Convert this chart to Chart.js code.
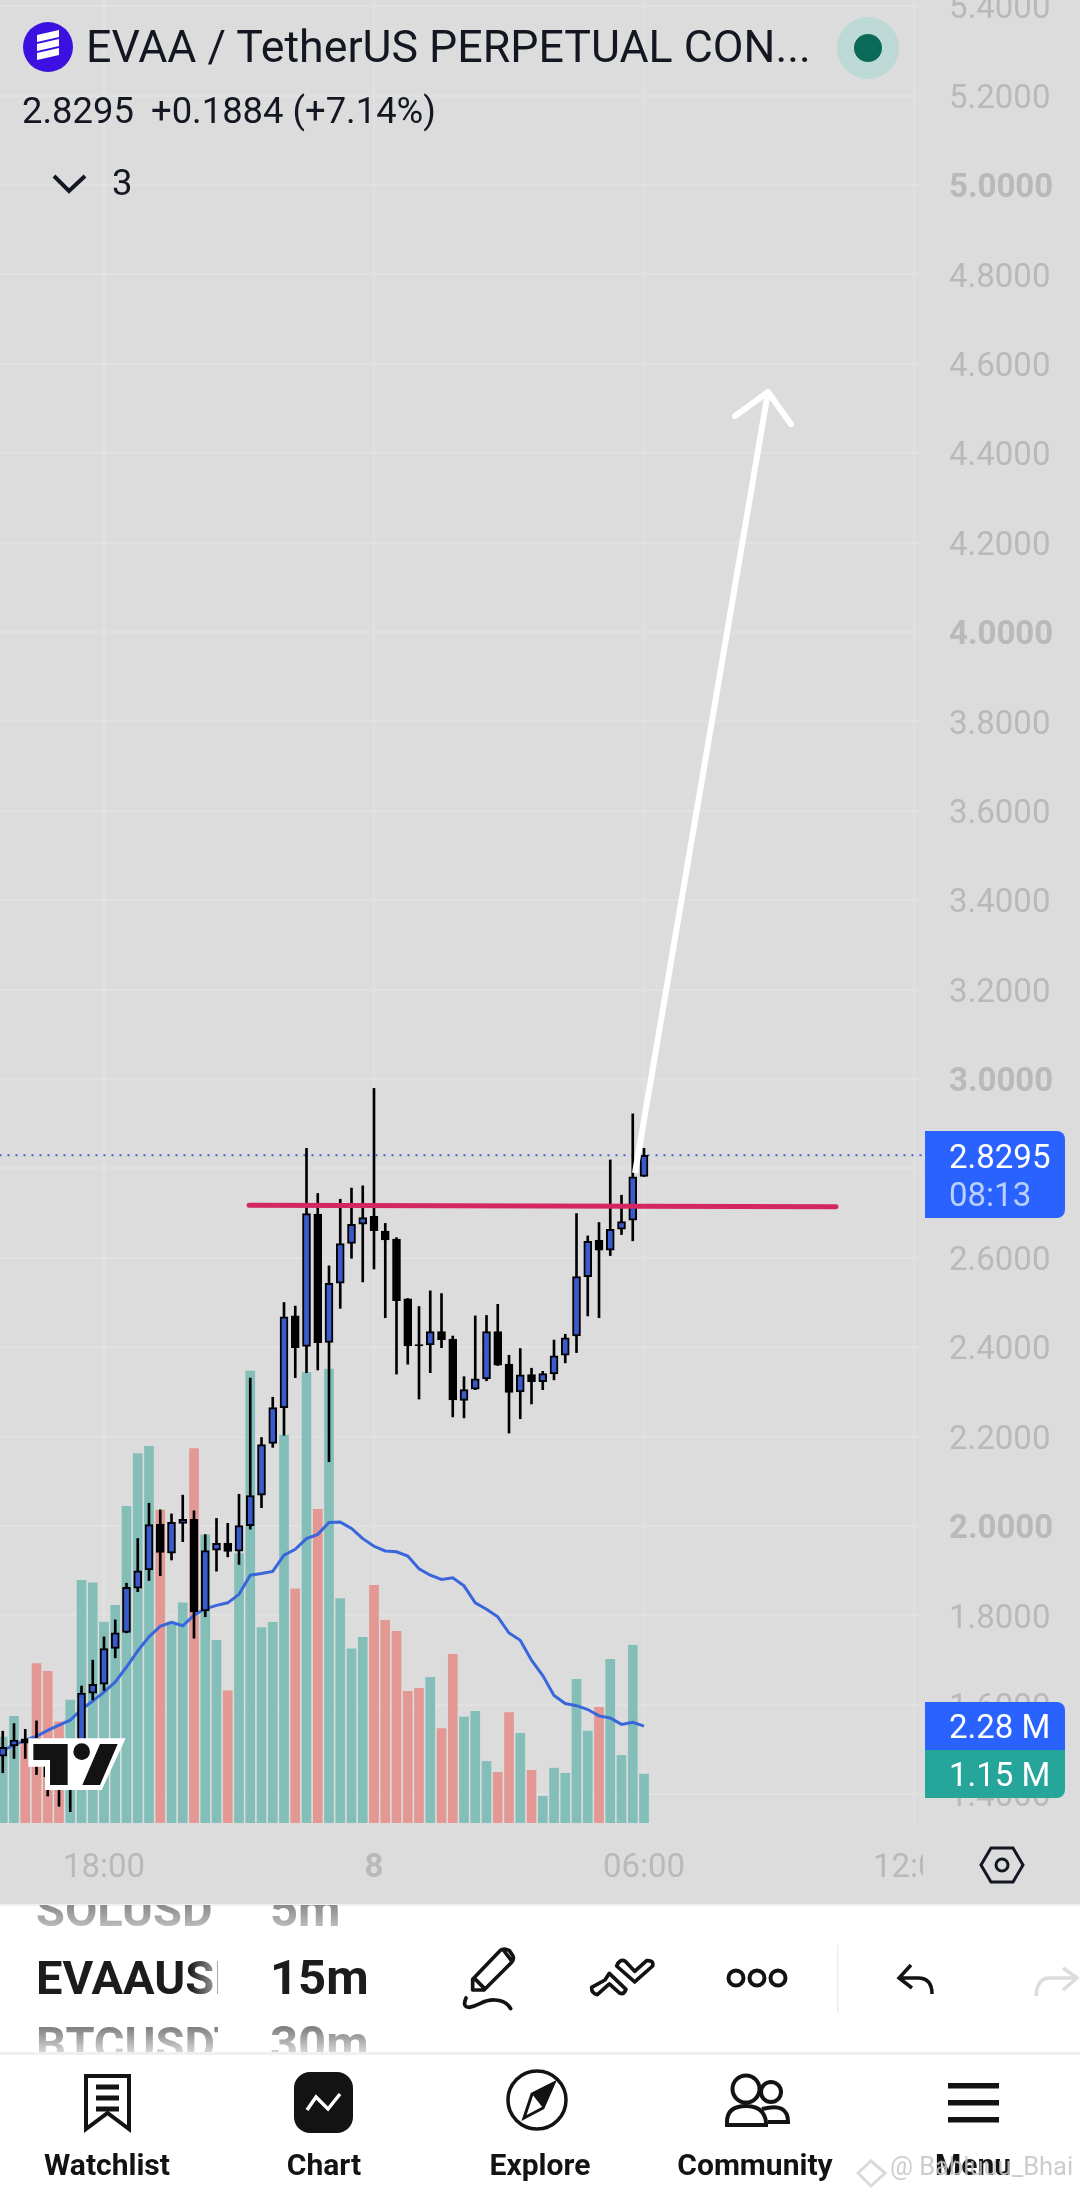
<!DOCTYPE html>
<html>
<head>
<meta charset="utf-8">
<title>EVAA / TetherUS</title>
<script src="https://cdn.jsdelivr.net/npm/chart.js@4"></script>
<style>
  html, body { margin: 0; padding: 0; background: #fff; }
  #page { position: relative; width: 1080px; height: 2198px; overflow: hidden; background: #fff; }
  #chart { position: absolute; left: 0; top: 0; background: #dcdcdc; }
  #ui { position: absolute; left: 0; top: 0; }
  #ui text { font-family: Roboto, sans-serif; }
</style>
</head>
<body>
<div id="page">
  <canvas id="chart" width="1080" height="1904"></canvas>
  <svg id="ui" width="1080" height="2198" viewBox="0 0 1080 2198">
    <defs>
      <linearGradient id="fadeTop" gradientUnits="userSpaceOnUse" x1="0" y1="1905" x2="0" y2="1930">
        <stop offset="0" stop-color="#8a8a8a"/><stop offset="1" stop-color="#c4c4c4"/>
      </linearGradient>
      <linearGradient id="fadeBottom" gradientUnits="userSpaceOnUse" x1="0" y1="2025" x2="0" y2="2053">
        <stop offset="0" stop-color="#777"/><stop offset="1" stop-color="#d8d8d8"/>
      </linearGradient>
      <linearGradient id="fadeRight" gradientUnits="userSpaceOnUse" x1="190" y1="0" x2="218" y2="0">
        <stop offset="0" stop-color="#1c1c1c"/><stop offset="1" stop-color="#aaa"/>
      </linearGradient>
      <clipPath id="wheelClip"><rect x="0" y="1905" width="600" height="148"/></clipPath>
      <clipPath id="symClip"><rect x="0" y="1905" width="218" height="148"/></clipPath>
    </defs>

    <!-- header -->
    <circle cx="48" cy="47" r="25" fill="#3c10e0"/>
    <path d="M37 36 L59 31 V38 L37 43 Z M37 45 L59 40 V47 L37 52 Z M37 54 L59 49 V56 L37 61 Z" fill="#fff" transform="translate(0,-1)"/>
    <text x="86" y="62" font-size="44.7" fill="#131722">EVAA / TetherUS PERPETUAL CON...</text>
    <circle cx="868" cy="48" r="31" fill="#bdd9d5"/>
    <circle cx="868" cy="48" r="14" fill="#0b6b58"/>
    <text x="22" y="123" font-size="36.4" fill="#131722">2.8295</text>
    <text x="151" y="123" font-size="36.4" fill="#131722">+0.1884 (+7.14%)</text>
    <path d="M54 176 L69 191 L85 176" fill="none" stroke="#131722" stroke-width="4"/>
    <text x="112" y="195" font-size="36.4" fill="#131722">3</text>

    <!-- TradingView mark -->
    <svg x="20" y="1725" width="120" height="100" viewBox="0 0 360 300">
      <path d="M25 40 H317 L245 195 H75 V125 H25 Z" fill="#fff"/>
      <path d="M40 57 H143 V180 H90 V105 H40 Z M240 57 H293 L240 180 H187 Z" fill="#131313"/>
      <circle cx="185" cy="80" r="25" fill="#131313"/>
    </svg>

    <!-- settings hexagon -->
    <path d="M991 1848 H1013 L1023 1865 L1013 1882 H991 L981 1865 Z" fill="none" stroke="#131722" stroke-width="3"/>
    <circle cx="1002" cy="1865" r="6" fill="none" stroke="#131722" stroke-width="3"/>

    <!-- toolbar -->
    <rect x="0" y="1904" width="1080" height="2" fill="#f0f0f0"/>
    <g clip-path="url(#symClip)" font-weight="700" font-size="47">
      <text x="36" y="1926" fill="url(#fadeTop)">SOLUSDT</text>
      <text x="36" y="1994" fill="url(#fadeRight)">EVAAUSDT</text>
      <text x="36" y="2060" fill="url(#fadeBottom)">BTCUSDT</text>
    </g>
    <g clip-path="url(#wheelClip)" font-weight="700" font-size="49">
      <text x="270" y="1926" fill="url(#fadeTop)">5m</text>
      <text x="270" y="1994" fill="#1c1c1c">15m</text>
      <text x="270" y="2060" fill="url(#fadeBottom)">30m</text>
    </g>
    <g transform="translate(440,1930) scale(0.3333)" fill="none" stroke="#131313" stroke-width="11" stroke-linejoin="round" stroke-linecap="round">
      <path d="M98 148 L180 62 Q192 52 208 62 L218 76 Q224 88 214 98 L132 180 H98 Z M104 146 L134 176 M190 60 L216 94"/>
      <path d="M78 204 Q66 232 88 232 C120 226 130 208 165 210 Q200 212 212 236"/>
      <path d="M495 150 L508 130 L558 178 Q552 194 540 190 L508 162 L472 194 Q454 190 455 172 Z"/>
      <path d="M530 108 Q540 84 556 94 L584 124 L620 92 Q642 90 638 108 L584 156 Z"/>
    </g>
    <g fill="none" stroke="#131313" stroke-width="4">
      <circle cx="736" cy="1978" r="7.5"/><circle cx="757" cy="1978" r="7.5"/><circle cx="778" cy="1978" r="7.5"/>
    </g>
    <rect x="837" y="1945" width="1.5" height="68" fill="#ececec"/>
    <path d="M911 1965 L899 1978 L912 1988 M899 1978 H918 Q932 1978 932 1994" fill="none" stroke="#131313" stroke-width="3.5"/>
    <path d="M1063 1968 L1077 1978 L1063 1990 M1077 1978 H1050 Q1037 1978 1036 1996" fill="none" stroke="#dcdcdc" stroke-width="3.5"/>
    <rect x="0" y="2052" width="1080" height="3" fill="#f0f0f0"/>

    <!-- bottom nav -->
    <path d="M86 2076 H129 V2129 L107.500 2113 L86 2129 Z" fill="none" stroke="#131313" stroke-width="4"/>
    <path d="M96 2087 H119 M96 2098 H119 M96 2109 H119" stroke="#131313" stroke-width="5"/>
    <rect x="294" y="2072" width="59" height="61" rx="16" fill="#131313"/>
    <path d="M307 2110 L316 2097 L328 2109 L340 2094" fill="none" stroke="#fff" stroke-width="3.500"/>
    <circle cx="537" cy="2100" r="29" fill="none" stroke="#131313" stroke-width="3.500"/>
    <path d="M554 2083 L543 2108 L524 2118 L532 2094 Z" fill="#fff" stroke="#131313" stroke-width="3"/>
    <path d="M554 2083 L532 2094 L543 2108 Z" fill="#131313"/>
    <g fill="none" stroke="#131313" stroke-width="4">
      <circle cx="746" cy="2089" r="13.500"/><circle cx="771" cy="2092" r="10"/>
      <path d="M727 2122 Q727 2106 746 2106 Q764 2106 766 2122 V2125 H727 Z"/>
      <path d="M762 2109 Q788 2102 788 2122 H768"/>
    </g>
    <rect x="948" y="2083" width="51" height="5.500" fill="#131313"/>
    <rect x="948" y="2100" width="51" height="5.500" fill="#131313"/>
    <rect x="948" y="2117" width="51" height="5.500" fill="#131313"/>
    <g font-size="30" font-weight="700" fill="#131313" text-anchor="middle">
      <text x="107" y="2175">Watchlist</text>
      <text x="324" y="2175">Chart</text>
      <text x="540" y="2175">Explore</text>
      <text x="755" y="2175">Community</text>
      <text x="973" y="2175">Menu</text>
    </g>
    <!-- watermark -->
    <path d="M871 2161 L885 2173 L871 2186 L858 2173 Z" fill="none" stroke="#dadada" stroke-width="3"/>
    <text x="890" y="2175" font-size="25.5" fill="#c4c4c4" fill-opacity="0.85">@ Babluuu_Bhai</text>
  </svg>
</div>
<script>
// Candles, one per 15 minutes
const candleOpen = [1.485,1.508,1.524,1.525,1.480,1.476,1.447,1.499,1.626,1.646,1.726,1.762,1.861,1.902,2.004,1.939,2.006,2.015,1.810,1.946,1.961,1.944,2.001,2.069,2.185,2.265,2.470,2.402,2.698,2.411,2.543,2.632,2.675,2.693,2.660,2.642,2.508,2.406,2.405,2.435,2.418,2.281,2.306,2.329,2.435,2.362,2.300,2.339,2.323,2.340,2.382,2.425,2.558,2.639,2.617,2.664,2.684,2.782];
const candleHigh = [1.541,1.558,1.545,1.564,1.491,1.495,1.506,1.642,1.700,1.752,1.790,1.872,1.972,2.051,2.036,2.027,2.069,2.034,1.981,2.017,2.006,2.071,2.331,2.198,2.288,2.500,2.492,2.845,2.744,2.582,2.731,2.756,2.761,2.979,2.677,2.645,2.509,2.491,2.526,2.520,2.425,2.334,2.470,2.471,2.496,2.382,2.397,2.353,2.346,2.416,2.429,2.699,2.649,2.679,2.819,2.740,2.922,2.845];
const candleLow = [1.448,1.480,1.480,1.444,1.396,1.373,1.361,1.476,1.611,1.632,1.705,1.761,1.853,1.878,1.889,1.924,1.965,1.749,1.797,1.899,1.931,1.914,1.993,2.041,2.176,2.203,2.332,2.343,2.349,2.144,2.487,2.599,2.546,2.575,2.466,2.340,2.362,2.284,2.343,2.399,2.244,2.242,2.305,2.325,2.359,2.208,2.240,2.273,2.305,2.327,2.365,2.388,2.470,2.466,2.605,2.652,2.638,2.782];
const candleClose = [1.505,1.521,1.514,1.488,1.439,1.424,1.491,1.626,1.646,1.726,1.761,1.863,1.900,2.003,1.941,2.008,2.015,1.808,1.945,1.961,1.943,2.001,2.068,2.182,2.265,2.468,2.399,2.699,2.410,2.543,2.632,2.675,2.690,2.661,2.640,2.504,2.403,2.403,2.435,2.417,2.282,2.305,2.329,2.435,2.360,2.299,2.338,2.323,2.341,2.381,2.421,2.558,2.637,2.617,2.664,2.681,2.781,2.8295];

// Volume in millions, 1 = green bar, 0 = red bar
const volume = [2.02,2.51,1.95,3.75,3.57,2.38,2.89,5.71,5.65,4.73,5.12,7.45,8.69,8.86,7.36,4.73,5.18,8.81,6.78,4.30,3.11,6.34,10.63,4.60,4.72,9.12,5.51,10.60,7.38,10.68,5.28,4.10,4.37,5.59,4.77,4.51,3.10,3.17,3.43,2.22,3.97,2.49,2.63,1.45,1.19,2.60,2.11,1.24,0.63,1.29,1.17,3.38,2.16,2.72,3.85,1.59,4.18,1.15];
const volumeUp = [1,1,0,0,0,0,1,1,1,1,1,1,1,1,0,1,1,0,1,1,0,1,1,1,1,1,0,1,0,1,1,1,1,0,0,0,0,0,1,0,0,1,1,1,0,0,1,0,1,1,1,1,1,0,1,1,1,1];
const volumeMa = [1.71,1.83,1.95,2.04,2.18,2.30,2.42,2.67,2.87,3.08,3.32,3.67,4.05,4.38,4.63,4.72,4.64,4.89,5.04,5.12,5.18,5.38,5.83,5.87,5.92,6.30,6.44,6.69,6.79,7.07,7.08,6.93,6.69,6.51,6.40,6.38,6.28,5.98,5.83,5.73,5.77,5.58,5.18,5.03,4.85,4.47,4.30,3.83,3.47,3.00,2.81,2.76,2.67,2.52,2.47,2.32,2.37,2.28];

// Axis ticks
const priceTicks = [1.4,1.6,1.8,2.0,2.2,2.4,2.6,2.8,3.0,3.2,3.4,3.6,3.8,4.0,4.2,4.4,4.6,4.8,5.0,5.2,5.4];
const timeTicks = [9,33,57,81];
const timeLabels = ["18:00","8","06:00","12:00"];

// Drawings on the chart
const lastPrice = 2.8295;
const resistanceX = [21.9,74.07];
const resistanceY = [2.7174,2.7145];
const arrowShaftX = [56.2,68.02];
const arrowShaftY = [2.79,4.537];
const arrowHeadX = [65.09,68.02,70.07];
const arrowHeadY = [4.483,4.537,4.465];

const BG = "#dcdcdc";
const GRID = "#e1e1e1";
const TICK_COLOR = "#b9b9b9";
const BLUE_TAG = "#2962ff";
const GREEN_TAG = "#26a69a";

const xs = candleOpen.map((_, i) => i);

function toPoints(px, py) {
  return px.map((x, i) => ({ x: x, y: py[i] }));
}

// chart area stops at 922 x 1823, tags and right strip are drawn over it
const overlayPlugin = {
  id: "overlay",
  beforeDraw(chart) {
    // price labels sit a little under their grid line
    chart.scales.y.getLabelItems().forEach((item) => {
      item.options.translation[1] += 4;
    });
  },
  afterDraw(chart) {
    const ctx = chart.ctx;
    ctx.save();
    ctx.fillStyle = BG;
    ctx.fillRect(923, 1824, 157, 80);

    function tag(y, h, color, radius) {
      ctx.fillStyle = color;
      ctx.beginPath();
      ctx.roundRect(925, y, 140, h, radius);
      ctx.fill();
    }
    tag(1131, 87, BLUE_TAG, [0, 8, 8, 0]);
    tag(1702, 48, BLUE_TAG, [0, 8, 0, 0]);
    tag(1750, 48, GREEN_TAG, [0, 0, 8, 0]);

    ctx.textAlign = "left";
    ctx.textBaseline = "alphabetic";
    ctx.font = "33px Roboto";
    ctx.fillStyle = "#ffffff";
    ctx.fillText(lastPrice.toFixed(4), 949, 1168);
    ctx.fillStyle = "#b9d0fc";
    ctx.fillText("08:13", 949, 1206);
    ctx.fillStyle = "#ffffff";
    ctx.fillText(volumeMa[volumeMa.length - 1].toFixed(2) + " M", 949, 1738);
    ctx.fillText(volume[volume.length - 1].toFixed(2) + " M", 949, 1786);
    ctx.restore();
  },
};

const ctx = document.getElementById("chart").getContext("2d");
const chart = new Chart(ctx, {
  plugins: [overlayPlugin],
  data: {
    datasets: [
      {
        type: "bar",
        label: "Volume",
        yAxisID: "vol",
        order: 7,
        data: toPoints(xs, volume),
        backgroundColor: volumeUp.map((u) => (u ? "#83bfb8" : "#e39894")),
        borderWidth: 0,
        barThickness: 9,
        grouped: false,
      },
      {
        type: "line",
        label: "Volume MA",
        yAxisID: "vol",
        order: 6,
        data: toPoints(xs, volumeMa),
        borderColor: "#3a66dc",
        borderWidth: 3,
        pointRadius: 0,
        tension: 0,
      },
      {
        type: "line",
        label: "Last price",
        yAxisID: "y",
        order: 5,
        data: toPoints([-1, 90], [lastPrice, lastPrice]),
        borderColor: "#4a62d8",
        borderWidth: 2,
        borderDash: [2, 6],
        pointRadius: 0,
      },
      {
        type: "bar",
        label: "Wicks",
        yAxisID: "y",
        order: 4,
        data: xs.map((i) => ({ x: i, y: [candleLow[i], candleHigh[i]] })),
        backgroundColor: "#000000",
        borderWidth: 0,
        barThickness: 2,
        grouped: false,
      },
      {
        type: "bar",
        label: "Bodies",
        yAxisID: "y",
        order: 3,
        data: xs.map((i) => ({ x: i, y: [candleOpen[i], candleClose[i]] })),
        backgroundColor: xs.map((i) => (candleClose[i] >= candleOpen[i] ? "#3a5bcc" : "#000000")),
        borderColor: "#000000",
        borderWidth: 2,
        borderSkipped: false,
        barThickness: 8,
        grouped: false,
      },
      {
        type: "line",
        label: "Resistance",
        yAxisID: "y",
        order: 2,
        data: toPoints(resistanceX, resistanceY),
        borderColor: "#d4265f",
        borderWidth: 5,
        borderCapStyle: "round",
        pointRadius: 0,
      },
      {
        type: "line",
        label: "Arrow",
        yAxisID: "y",
        order: 1,
        data: toPoints(arrowShaftX, arrowShaftY),
        borderColor: "#ffffff",
        borderWidth: 6,
        pointRadius: 0,
      },
      {
        type: "line",
        label: "Arrow head",
        yAxisID: "y",
        order: 1,
        data: toPoints(arrowHeadX, arrowHeadY),
        borderColor: "#ffffff",
        borderWidth: 6,
        borderCapStyle: "round",
        borderJoinStyle: "round",
        pointRadius: 0,
      },
    ],
  },
  options: {
    responsive: false,
    animation: false,
    devicePixelRatio: 1,
    layout: { padding: 0 },
    plugins: { legend: { display: false }, tooltip: { enabled: false } },
    scales: {
      x: {
        type: "linear",
        offset: false,
        min: -0.2444,
        max: 81.71,
        afterBuildTicks(scale) {
          scale.ticks = timeTicks.map((v) => ({ value: v }));
        },
        afterFit(scale) {
          scale.height = 81;
          scale.paddingLeft = 0;
          scale.paddingRight = 0;
        },
        grid: { color: GRID, lineWidth: 2, drawTicks: false, offset: false },
        border: { display: false },
        ticks: {
          autoSkip: false,
          maxRotation: 0,
          padding: 26,
          color: TICK_COLOR,
          font: (c) => ({ family: "Roboto", size: 33, weight: c.index === 1 ? "bold" : "normal" }),
          callback: (v) => timeLabels[timeTicks.indexOf(v)],
        },
      },
      y: {
        type: "linear",
        position: "right",
        min: 1.3356,
        max: 5.4139,
        afterBuildTicks(scale) {
          scale.ticks = priceTicks.map((v) => ({ value: v }));
        },
        afterFit(scale) {
          scale.width = 158;
          scale.paddingTop = 0;
          scale.paddingBottom = 0;
        },
        grid: { color: GRID, lineWidth: 2, drawTicks: false },
        border: { display: false },
        ticks: {
          autoSkip: false,
          padding: 27,
          color: TICK_COLOR,
          font: (c) => ({
            family: "Roboto",
            size: 33,
            weight: c.tick && Number.isInteger(c.tick.value) ? "bold" : "normal",
          }),
          callback: (v) => v.toFixed(4),
        },
      },
      vol: {
        type: "linear",
        display: false,
        min: 0,
        max: 42.89,
      },
    },
  },
});
</script>
</body>
</html>
